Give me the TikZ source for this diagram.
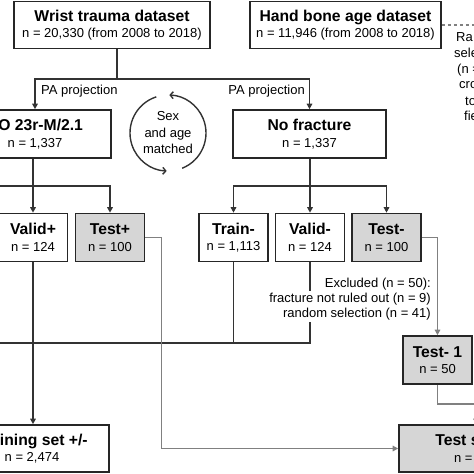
\documentclass[tikz,border=0pt]{standalone}
\usepackage{fontspec}
\setmainfont{Liberation Sans}
\usetikzlibrary{arrows.meta}
\tikzstyle{bx}=[shape=rectangle, draw=black!85, line width=1.6pt,
                  minimum height=48pt, inner sep=2pt, align=center,
                  font=\fontsize{13}{16.5}\selectfont]
\tikzstyle{gbx}=[bx, fill=black!16]
\tikzstyle{rw}=[minimum width=69pt]
\tikzstyle{ln}=[draw=black!80, line width=1.4pt]
\tikzstyle{gln}=[draw=black!50, line width=1.4pt]
\tikzstyle{txt}=[inner sep=0pt, font=\fontsize{13}{15}\selectfont]
\tikzstyle{mtch}=[align=center, font=\fontsize{13}{16.5}\selectfont]
\tikzstyle{circ}=[-{Straight Barb[length=3pt, width=7pt]}]
\newcommand{\hd}[1]{{\fontsize{15.7}{16.5}\selectfont\bfseries #1}}

\begin{document}
\begin{tikzpicture}[x=1pt, y=-1pt, >={Triangle[length=5.5pt, width=5.5pt]}]
\useasboundingbox (0,0) rectangle (474,474);
\clip (0,0) rectangle (474,474);

% nodes
\node[bx, minimum width=196pt, minimum height=47pt] (wrist) at (112,25) {\hd{Wrist trauma dataset}\\n = 20,330 (from 2008 to 2018)};
\node[bx, minimum width=191pt, minimum height=47pt] (hand) at (345.5,25) {\hd{Hand bone age dataset}\\n = 11,946 (from 2008 to 2018)};
\node[bx, minimum width=152pt] (ao) at (35,134) {\hd{\phantom{A}O 23r-M/2.1}\\n = 1,337};
\node[bx, minimum width=153pt] (nofr) at (309.5,134) {\hd{No fracture}\\n = 1,337};
\node[mtch] (match) at (168,133) {Sex\\and age\\matched};
\node[bx, rw] (vldp) at (33,237.5) {\hd{Valid+}\\n = 124};
\node[gbx, rw] (tstp) at (110,237.5) {\hd{Test+}\\n = 100};
\node[bx, rw] (trnm) at (233.5,237.5) {\hd{Train-}\\n = 1,113};
\node[bx, rw] (vldm) at (310,237.5) {\hd{Valid-}\\n = 124};
\node[gbx, rw] (tstm) at (386.5,237.5) {\hd{Test-}\\n = 100};
\node[gbx, rw] (tst1) at (437.5,360) {\hd{Test- 1}\\n = 50};
\node[bx, minimum width=154pt, minimum height=47pt] (trset) at (32,448.5) {\hd{\phantom{Tra}ining set +/-}\\n = 2,474};
\node[gbx, minimum width=154pt, minimum height=47pt] (tsset) at (476,448.5) {\hd{Test s\phantom{et +/-}}\\n =\phantom{ 150}};

% paths
\coordinate (tbr) at (117,79);
\coordinate (rbr) at (310,186);
\coordinate (lbr) at (-10,186);
\coordinate (jn) at (310,343);
\coordinate (jw) at (-10,343);
\coordinate (t1r) at (476,404);
\coordinate (dsh) at (480,25);

\draw[ln] (wrist.south -| tbr) -- (tbr);
\draw[ln, ->] (tbr) -| (ao.north);
\draw[ln, ->] (tbr) -| (nofr.north);
\draw[ln, ->] (vldp |- ao.south) -- (vldp.north);
\draw[ln, ->] (lbr) -| (tstp.north);
\draw[ln, ->] (nofr.south -| vldm) -- (vldm.north);
\draw[ln, ->] (rbr) -| (trnm.north);
\draw[ln, ->] (rbr) -| (tstm.north);
\draw[ln] (vldm.south) -- (jn) -- (jw);
\draw[ln] (trnm.south) -- (trnm |- jn);
\draw[ln, ->] (vldp.south) -- (trset.north -| vldp);
\draw[gln, ->] (tstp.east) -- ++(16,0) |- (tsset.west);
\draw[gln, ->] (tstm.east) -| (tst1.north);
\draw[gln, ->] (tst1.south) |- (t1r) -- (tsset.north);
\draw[gln, dashed] (hand.east) -- (dsh);
\draw[ln, circ] (match.center) ++(68:38) arc[start angle=68, end angle=-88, radius=38];
\draw[ln, circ] (match.center) ++(-108:38) arc[start angle=-108, end angle=-268, radius=38];

% notes
\node[txt, anchor=west] (pal) at (41,91) {PA projection};
\node[txt, anchor=east] (par) at (305,91) {PA projection};
\node[txt, anchor=east] (excl) at (431,284) {Excluded (n = 50):};
\node[txt, anchor=east, fill=white, inner ysep=1.5pt, align=right] (exnote) at (431,306.5) {fracture not ruled out (n = 9)\\random selection (n = 41)};
\node[txt, anchor=west] (rs1) at (456,37) {Ra};
\node[txt, anchor=west] (rs2) at (454,53) {sele};
\node[txt, anchor=west] (rs3) at (457,70) {(n =};
\node[txt, anchor=west] (rs4) at (459,85) {cro};
\node[txt, anchor=west] (rs5) at (465,101) {to};
\node[txt, anchor=west] (rs6) at (464,116) {fie};

\end{tikzpicture}
\end{document}
